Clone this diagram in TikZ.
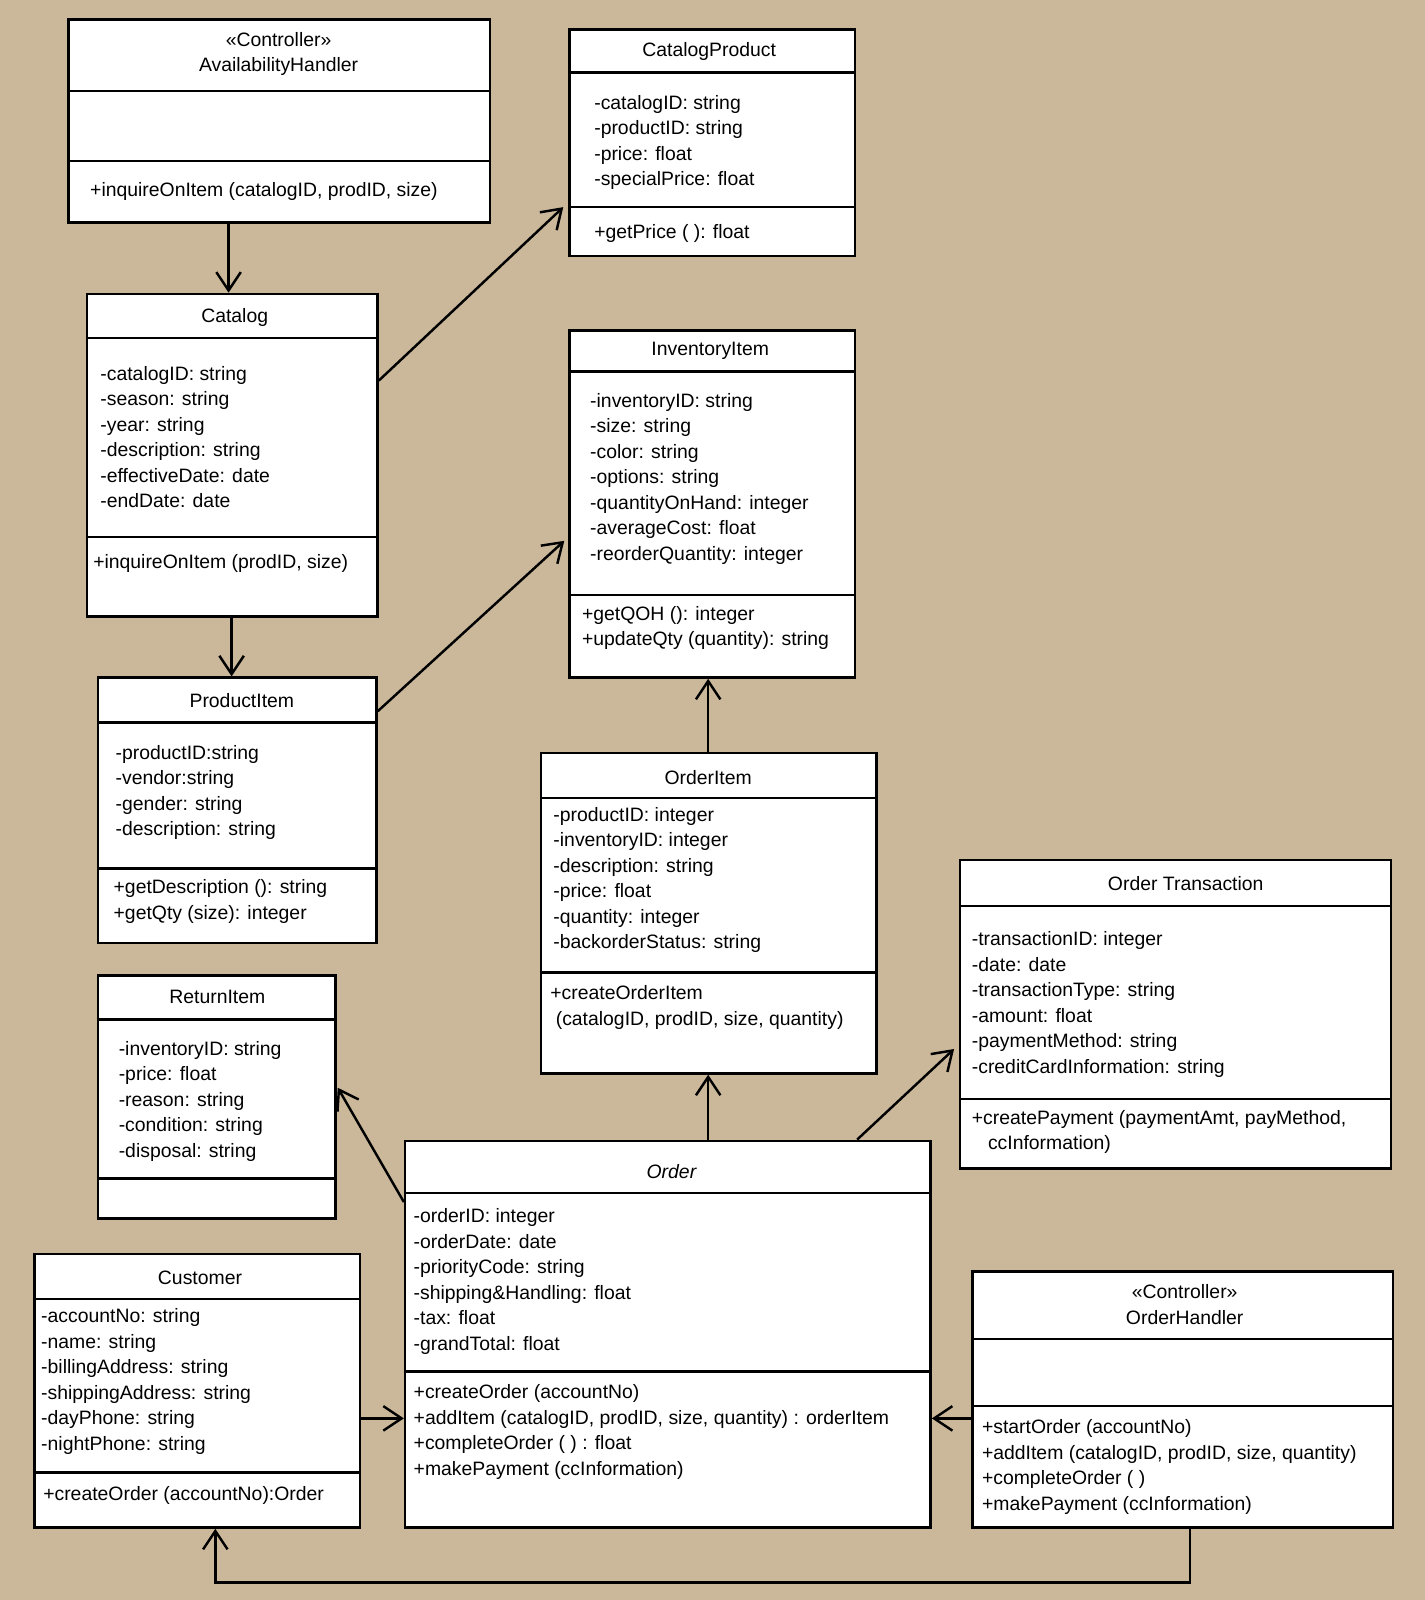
\documentclass[tikz,border=0pt]{standalone}
\usepackage{fontspec}
\setmainfont{Liberation Sans}
\usetikzlibrary{arrows.meta,fit}
\definecolor{bg}{HTML}{CBB89B}
\tikzset{
 box/.style={draw,fill=white,line width=1.2pt,inner sep=0pt},
 div/.style={line width=1.2pt},
 txt/.style={anchor=west,inner sep=0pt,align=left,font=\fontsize{9.5}{12.5}\selectfont},
 ttl/.style={inner sep=0pt,align=center,font=\fontsize{9.5}{12.5}\selectfont},
 arr/.style={line width=1.2pt,-{Straight Barb[length=9pt,width=12pt,line width=1.2pt]}}
}
\newcommand{\cls}[5]{\node[box,fit={(#2,#3)(#4,#5)}] (#1) {};}
\newcommand{\dv}[2]{\draw[div] (#1.west |- 0,#2) -- (#1.east |- 0,#2);}
\begin{document}
\begin{tikzpicture}[x=0.5pt,y=-0.5pt]
\fill[bg] (0,0) rectangle (1396,1568);
\useasboundingbox (0,0) rectangle (1396,1568);
% AvailabilityHandler
\cls{ah}{67}{19}{480}{218}\dv{ah}{89}\dv{ah}{158}
\node[ttl] at (273,53) {«Controller»\\AvailabilityHandler};
\node[txt] at (88,188) {+inquireOnItem (catalogID, prodID, size)};
% CatalogProduct
\cls{cp}{558}{29}{838}{251}\dv{cp}{71}\dv{cp}{203}
\node[ttl] at (695,50) {CatalogProduct};
\node[txt] at (582,139.5) {-catalogID: string\\-productID: string\\-price: float\\-specialPrice: float};
\node[txt] at (582,229) {+getPrice ( ): float};
% Catalog
\cls{cat}{85}{288}{370}{604}\dv{cat}{331}\dv{cat}{526}
\node[ttl] at (230,311) {Catalog};
\node[txt] at (98,428.5) {-catalogID: string\\-season: string\\-year: string\\-description: string\\-effectiveDate: date\\-endDate: date};
\node[txt] at (91,552) {+inquireOnItem (prodID, size)};
% InventoryItem
\cls{inv}{558}{324}{838}{664}\dv{inv}{364}\dv{inv}{583}
\node[ttl] at (696,344) {InventoryItem};
\node[txt] at (578,469) {-inventoryID: string\\-size: string\\-color: string\\-options: string\\-quantityOnHand: integer\\-averageCost: float\\-reorderQuantity: integer};
\node[txt] at (570,615.5) {+getQOH (): integer\\+updateQty (quantity): string};
% ProductItem
\cls{pi}{96}{664}{369}{924}\dv{pi}{708}\dv{pi}{851}
\node[ttl] at (237,687) {ProductItem};
\node[txt] at (113,776.5) {-productID:string\\-vendor:string\\-gender: string\\-description: string};
\node[txt] at (111,883.5) {+getDescription (): string\\+getQty (size): integer};
% OrderItem
\cls{oi}{530}{738}{859}{1052}\dv{oi}{782}\dv{oi}{953}
\node[ttl] at (694,762) {OrderItem};
\node[txt] at (542,862.5) {-productID: integer\\-inventoryID: integer\\-description: string\\-price: float\\-quantity: integer\\-backorderStatus: string};
\node[txt] at (539,987.5) {+createOrderItem\\\ (catalogID, prodID, size, quantity)};
% Order Transaction
\cls{ot}{941}{843}{1363}{1145}\dv{ot}{888}\dv{ot}{1077}
\node[ttl] at (1162,866) {Order Transaction};
\node[txt] at (952,984.5) {-transactionID: integer\\-date: date\\-transactionType: string\\-amount: float\\-paymentMethod: string\\-creditCardInformation: string};
\node[txt] at (952,1109.5) {+createPayment (paymentAmt, payMethod,\\\ \ \ ccInformation)};
% ReturnItem
\cls{ri}{96}{956}{329}{1194}\dv{ri}{999}\dv{ri}{1155}
\node[ttl] at (213,977) {ReturnItem};
\node[txt] at (116,1079) {-inventoryID: string\\-price: float\\-reason: string\\-condition: string\\-disposal: string};
% Order
\cls{ord}{397}{1118}{912}{1497}\dv{ord}{1169}\dv{ord}{1344}
\node[ttl] at (658,1148) {\itshape Order};
\node[txt] at (405,1256) {-orderID: integer\\-orderDate: date\\-priorityCode: string\\-shipping\&Handling: float\\-tax: float\\-grandTotal: float};
\node[txt] at (405,1403.5) {+createOrder (accountNo)\\+addItem (catalogID, prodID, size, quantity) : orderItem\\+completeOrder ( ) : float\\+makePayment (ccInformation)};
% Customer
\cls{cus}{34}{1229}{353}{1497}\dv{cus}{1273}\dv{cus}{1443}
\node[ttl] at (196,1252) {Customer};
\node[txt] at (40,1354) {-accountNo: string\\-name: string\\-billingAddress: string\\-shippingAddress: string\\-dayPhone: string\\-nightPhone: string};
\node[txt] at (42,1466) {+createOrder (accountNo):Order};
% OrderHandler
\cls{oh}{953}{1246}{1365}{1497}\dv{oh}{1312}\dv{oh}{1378}
\node[ttl] at (1161,1278.5) {«Controller»\\OrderHandler};
\node[txt] at (962,1437.5) {+startOrder (accountNo)\\+addItem (catalogID, prodID, size, quantity)\\+completeOrder ( )\\+makePayment (ccInformation)};
% connectors
\draw[arr] (ah.south -| 224,0) -- (cat.north -| 224,0);
\draw[arr] (cat.east |- 0,373) -- (552,203);
\draw[arr] (cat.south -| 227,0) -- (pi.north -| 227,0);
\draw[arr] (pi.east |- 0,697) -- (553,530);
\draw[arr] (oi.north -| 694,0) -- (inv.south -| 694,0);
\draw[arr] (ord.north -| 694,0) -- (oi.south -| 694,0);
\draw[arr] (ord.north -| 840,0) -- (935,1028);
\draw[arr] (ord.west |- 0,1178) -- (331,1066);
\draw[arr] (cus.east |- 0,1390) -- (ord.west |- 0,1390);
\draw[arr] (oh.west |- 0,1390) -- (ord.east |- 0,1390);
\draw[arr] (oh.south -| 1166,0) -- (1166,1551) -- (211,1551) -- (cus.south -| 211,0);
\end{tikzpicture}
\end{document}
